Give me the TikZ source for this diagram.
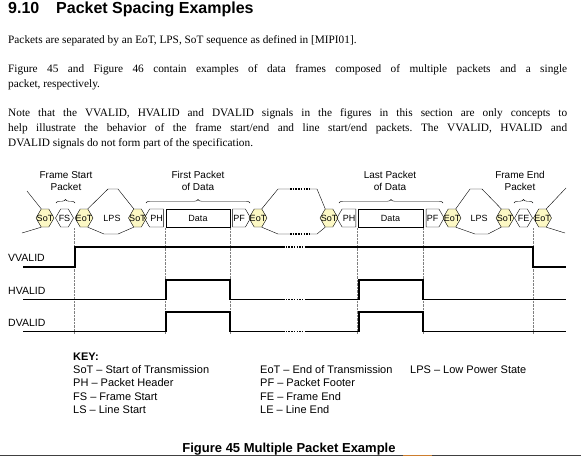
\documentclass[tikz,border=0pt]{standalone}
\usepackage{fontspec}
\setmainfont{Liberation Serif}
\setsansfont{Liberation Sans}
\usetikzlibrary{shapes.symbols,decorations.pathreplacing,calc}
\frenchspacing

\definecolor{hexfill}{RGB}{252,248,196}
\definecolor{rulebit}{RGB}{205,125,45}

\tikzset{
  hexpkt/.style={draw, signal, signal to=east and west, signal pointer angle=120,
    minimum width=18pt, minimum height=18pt, inner sep=0pt},
  sotpkt/.style={hexpkt, fill=hexfill},
  lpkt/.style={draw, signal, signal to=west, signal pointer angle=120,
    minimum width=19pt, minimum height=18pt, inner sep=0pt},
  rpkt/.style={draw, signal, signal to=east, signal pointer angle=120,
    minimum width=18pt, minimum height=18pt, inner sep=0pt},
  databox/.style={draw, line width=0.9pt, rectangle, minimum height=18pt, inner sep=0pt,
    font=\sffamily\fontsize{9}{9}\selectfont},
  gaptext/.style={font=\sffamily\fontsize{9}{9}\selectfont, inner sep=0pt},
  toplabel/.style={align=center, inner sep=0pt, font=\sffamily\fontsize{10}{12}\selectfont},
  brace/.style={decorate, decoration={brace, amplitude=3.5pt}},
  wave/.style={line width=1.3pt},
  dots/.style={line width=1.3pt, dash pattern=on 1.5pt off 1.2pt},
  guide/.style={gray, line width=0.4pt, densely dotted},
  sig/.style={anchor=base west, inner sep=0pt, font=\sffamily\fontsize{10.5}{12}\selectfont},
  keytext/.style={anchor=base west, inner sep=0pt, font=\sffamily\fontsize{11}{12}\selectfont},
  body/.style={anchor=base west, inner sep=0pt, font=\fontsize{11.3}{15}\selectfont},
  every label/.style={inner sep=0pt, font=\sffamily\fontsize{9}{9}\selectfont}
}

\begin{document}
\begin{tikzpicture}[x=1pt, y=-1pt]
  \useasboundingbox (0,0) rectangle (581,456);

  % heading and text
  \node[anchor=base west, inner sep=0pt, font=\sffamily\bfseries\fontsize{16}{18}\selectfont] (secnum) at (8,13) {9.10};
  \node[anchor=base west, inner sep=0pt, font=\sffamily\bfseries\fontsize{16}{18}\selectfont] (sectitle) at (56,13) {Packet Spacing Examples};
  \node[body] (para1) at (8,43) {Packets are separated by an EoT, LPS, SoT sequence as defined in [MIPI01].};
  \node[body] (para2a) at (8,72) {\makebox[559pt][s]{Figure 45 and Figure 46 contain examples of data frames composed of multiple packets and a single}};
  \node[body] (para2b) at (8,87) {packet, respectively.};
  \node[body] (para3a) at (8,116) {\makebox[559pt][s]{Note that the VVALID, HVALID and DVALID signals in the figures in this section are only concepts to}};
  \node[body] (para3b) at (8,131) {\makebox[559pt][s]{help illustrate the behavior of the frame start/end and line start/end packets. The VVALID, HVALID and}};
  \node[body] (para3c) at (8,146) {DVALID signals do not form part of the specification.};

  % packet row
  \node[sotpkt, label=center:SoT] (sotA) at (45,218) {};
  \node[hexpkt, label=center:FS] (fsA) at (64.5,218) {};
  \node[sotpkt, label=center:EoT] (eotA) at (84,218) {};
  \node[gaptext] (lpsA) at (112,218) {LPS};
  \node[sotpkt, label=center:SoT] (sotB) at (137.5,218) {};
  \node[lpkt, label=center:PH] (phA) at (156.5,218) {};
  \node[databox, minimum width=64pt] (dataA) at (198,218) {Data};
  \node[rpkt, label=center:PF] (pfA) at (239,218) {};
  \node[sotpkt, label=center:EoT] (eotB) at (258,218) {};
  \coordinate (gapA) at (295,218);
  \node[sotpkt, label=center:SoT] (sotC) at (329,218) {};
  \node[lpkt, label=center:PH] (phB) at (349,218) {};
  \node[databox, minimum width=65pt] (dataB) at (390.5,218) {Data};
  \node[rpkt, label=center:PF] (pfB) at (432.5,218) {};
  \node[sotpkt, label=center:EoT] (eotC) at (452,218) {};
  \node[gaptext] (lpsB) at (479,218) {LPS};
  \node[sotpkt, label=center:SoT] (sotD) at (505,218) {};
  \node[hexpkt, label=center:FE] (feA) at (523.5,218) {};
  \node[sotpkt, label=center:EoT] (eotD) at (542.5,218) {};

  % lines between packets
  \draw (27,191) -- ($(sotA.north)+(-3.8,0)$);
  \draw (22,233) -- ($(sotA.south)+(-3.8,0)$);
  \draw ($(eotA.north)+(3.8,0)$) -- ($(lpsA)+(-4,-29)$) -- ($(lpsA)+(6,-29)$) -- ($(sotB.north)+(-3.8,0)$);
  \draw ($(eotA.south)+(3.8,0)$) -- ($(lpsA)+(-8,16)$) -- ($(lpsA)+(6,16)$) -- ($(sotB.south)+(-3.8,0)$);
  \draw ($(eotB.north)+(3.8,0)$) -- ($(gapA)+(-17,-29)$) -- ($(gapA)+(-5,-29)$);
  \draw[dots] ($(gapA)+(-5,-29)$) -- ($(gapA)+(15,-29)$);
  \draw ($(gapA)+(15,-29)$) -- ($(gapA)+(22,-29)$) -- ($(sotC.north)+(-3.8,0)$);
  \draw ($(eotB.south)+(3.8,0)$) -- ($(gapA)+(-17,16)$) -- ($(gapA)+(-5,16)$);
  \draw[dots] ($(gapA)+(-5,16)$) -- ($(gapA)+(15,16)$);
  \draw ($(gapA)+(15,16)$) -- ($(gapA)+(22,16)$) -- ($(sotC.south)+(-3.8,0)$);
  \draw ($(eotC.north)+(3.8,0)$) -- ($(lpsB)+(-9,-29)$) -- ($(lpsB)+(3,-29)$) -- ($(sotD.north)+(-3.8,0)$);
  \draw ($(eotC.south)+(3.8,0)$) -- ($(lpsB)+(-4,16)$) -- ($(lpsB)+(9,16)$) -- ($(sotD.south)+(-3.8,0)$);
  \draw ($(eotD.north)+(3.8,0)$) -- (566,188);
  \draw ($(eotD.south)+(3.8,0)$) -- (565,233);

  % braces and labels
  \draw[brace] (56,203) -- (75,203);
  \draw[brace] (146,203) -- (250,203);
  \draw[brace] (339,203) -- (443,203);
  \draw[brace] (514,203) -- (533,203);
  \node[toplabel] (fsLbl) at (66,181) {Frame Start\\Packet};
  \node[toplabel] (firstLbl) at (198,181) {First Packet\\of Data};
  \node[toplabel] (lastLbl) at (390,181) {Last Packet\\of Data};
  \node[toplabel] (feLbl) at (520,181) {Frame End\\Packet};

  % guides
  \draw[guide] (fsA.east |- 0,228) -- (fsA.east |- 0,334);
  \draw[guide] (dataA.west |- 0,228) -- (dataA.west |- 0,334);
  \draw[guide] (dataA.east |- 0,228) -- (dataA.east |- 0,334);
  \draw[guide] (dataB.west |- 0,228) -- (dataB.west |- 0,334);
  \draw[guide] (dataB.east |- 0,228) -- (dataB.east |- 0,334);
  \draw[guide] (feA.east |- 0,228) -- (feA.east |- 0,334);

  % signals
  \node[sig] (vvalid) at (8,261) {VVALID};
  \node[sig] (hvalid) at (8,294) {HVALID};
  \node[sig] (dvalid) at (8,326) {DVALID};
  \draw[wave] (23,267) -- (75,267) -- (75,247) -- (283,247);
  \draw[dots] (283,247) -- (305,247);
  \draw[wave] (305,247) -- (533,247) -- (533,267) -- (566,267);
  \draw[wave] (23,299.5) -- (166,299.5) -- (166,280) -- (230,280) -- (230,299.5) -- (283,299.5);
  \draw[dots] (283,299.5) -- (305,299.5);
  \draw[wave] (305,299.5) -- (359,299.5) -- (359,280) -- (423,280) -- (423,299.5) -- (566,299.5);
  \draw[wave] (23,331.5) -- (166,331.5) -- (166,312) -- (230,312) -- (230,331.5) -- (283,331.5);
  \draw[dots] (283,331.5) -- (305,331.5);
  \draw[wave] (305,331.5) -- (359,331.5) -- (359,312) -- (423,312) -- (423,331.5) -- (566,331.5);

  % key
  \node[keytext, font=\sffamily\bfseries\fontsize{11}{12}\selectfont] (keyhead) at (73,360) {KEY:};
  \node[keytext] (keysot) at (73,373) {SoT -- Start of Transmission};
  \node[keytext] (keyph) at (73,386.5) {PH -- Packet Header};
  \node[keytext] (keyfs) at (73,400) {FS -- Frame Start};
  \node[keytext] (keyls) at (73,413.5) {LS -- Line Start};
  \node[keytext] (keyeot) at (260,373) {EoT -- End of Transmission};
  \node[keytext] (keylps) at (410,373) {LPS -- Low Power State};
  \node[keytext] (keypf) at (260,386.5) {PF -- Packet Footer};
  \node[keytext] (keyfe) at (260,400) {FE -- Frame End};
  \node[keytext] (keyle) at (260,413.5) {LE -- Line End};

  % caption
  \node[anchor=base, inner sep=0pt, font=\sffamily\bfseries\fontsize{13}{14}\selectfont] (caption) at (289,452) {Figure 45 Multiple Packet Example};
  \draw[black!75, line width=1.2pt] (0,455.4) -- (581,455.4);
  \draw[rulebit, line width=1.2pt] (403,455.4) -- (432,455.4);
\end{tikzpicture}
\end{document}
